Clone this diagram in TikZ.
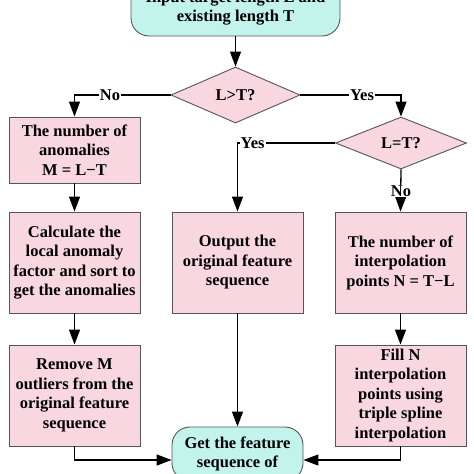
\documentclass[tikz,border=0pt]{standalone}
\usepackage{fontspec}
\setmainfont{Liberation Serif}
\usetikzlibrary{shapes.geometric,arrows.meta,calc}
\definecolor{pinkf}{HTML}{F8D7E1}
\definecolor{cyanf}{HTML}{C3F4EC}
\definecolor{edgec}{HTML}{555555}
\begin{document}
\begin{tikzpicture}[x=1pt,y=-1pt,
 font=\fontsize{16.5}{19.5}\selectfont\bfseries,
 box/.style={draw=edgec,fill=pinkf,line width=0.9pt,minimum width=131pt,minimum height=101pt,inner sep=0pt,align=center},
 term/.style={draw=edgec,fill=cyanf,line width=0.9pt,rounded corners=18pt,inner sep=0pt,align=center},
 dec/.style={diamond,draw=edgec,fill=pinkf,line width=0.9pt,inner sep=0pt,aspect=2.3},
 arr/.style={line width=1.3pt,-{Triangle[length=15pt,width=11pt]}},
 lab/.style={fill=white,inner sep=1pt}]
\clip (0,0) rectangle (474,474);
\fill[white] (0,0) rectangle (474,474);

\node[term,minimum width=209pt,minimum height=56pt] (start) at (235.5,8) {Input target length L and\\existing length T};
\node[dec,minimum width=129pt,minimum height=56pt] (d1) at (235.5,95) {L>T?};
\node[dec,minimum width=131pt,minimum height=52pt] (d2) at (401,143) {L=T?};
\node[box,minimum height=66pt] (l1) at (74.5,150) {The number of\\anomalies\\M = L−T};
\node[box] (l2) at (74.5,262.5) {Calculate the\\local anomaly\\factor and sort to\\get the anomalies};
\node[box] (l3) at (74.5,395.5) {Remove M\\outliers from the\\original feature\\sequence};
\node[box] (m1) at (237.5,262.5) {Output the\\original feature\\sequence};
\node[box] (r1) at (400.5,262.5) {The number of\\interpolation\\points N = T−L};
\node[box] (r2) at (400.5,395.5) {Fill N\\interpolation\\points using\\triple spline\\interpolation};
\node[term,minimum width=131pt,minimum height=54pt] (fin) at (237.5,454) {Get the feature\\sequence of};

\draw[arr] (start) -- (d1);
\draw[arr] (d1.west) -| (l1.north);
\draw[arr] (d1.east) -| (d2.north);
\draw[arr] (d2.west) -| (m1.north);
\draw[arr] (d2.south) -- (r1.north);
\draw[arr] (l1) -- (l2);
\draw[arr] (l2) -- (l3);
\draw[arr] (r1) -- (r2);
\draw[arr] (m1) -- (fin);
\draw[arr] (l3.south) |- ($(fin.west)+(0,6)$);
\draw[arr] (r2.south) |- ($(fin.east)+(0,6)$);

\node[lab] (no1) at (110,95) {No};
\node[lab] (yes1) at (362,95) {Yes};
\node[lab,anchor=west] (yes2) at (239.5,143) {Yes};
\node[lab] (no2) at (401,191) {No};
\end{tikzpicture}
\end{document}
